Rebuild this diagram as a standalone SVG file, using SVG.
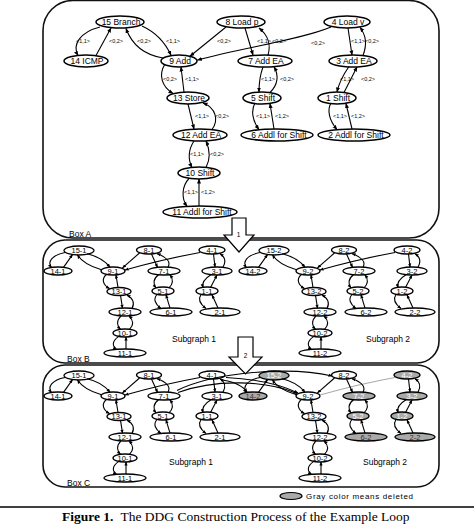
<svg xmlns="http://www.w3.org/2000/svg" width="474" height="527" viewBox="0 0 474 527">
<defs>
<marker id="ah" viewBox="0 0 10 10" refX="9" refY="5" markerWidth="5" markerHeight="5" markerUnits="userSpaceOnUse" orient="auto"><path d="M0,1 L10,5 L0,9 z" fill="#000"/></marker>
<marker id="ahs" viewBox="0 0 10 10" refX="9" refY="5" markerWidth="4" markerHeight="4" markerUnits="userSpaceOnUse" orient="auto"><path d="M0,1 L10,5 L0,9 z" fill="#000"/></marker>
</defs>
<style>
.box{fill:none;stroke:#111;stroke-width:1.6}
.na ellipse{fill:#fff;stroke:#000;stroke-width:1.5}
.na text{font-family:"Liberation Sans",Arial,sans-serif;font-size:8.5px;text-anchor:middle;fill:#000}
.nb ellipse{fill:#fff;stroke:#000;stroke-width:1.3}
.nb text{font-family:"Liberation Sans",Arial,sans-serif;font-size:7.5px;text-anchor:middle;fill:#000}
.nb.del ellipse{fill:#aaa}
.nb.del text{fill:#fff}
.ea{fill:none;stroke:#000;stroke-width:1.1;marker-end:url(#ah)}
.eb{fill:none;stroke:#000;stroke-width:1.1;marker-end:url(#ahs)}
.eg{fill:none;stroke:#aaa;stroke-width:1.1}
.lbl{font-family:"Liberation Sans",Arial,sans-serif;font-size:5.5px;text-anchor:middle;fill:#000}
.t{font-family:"Liberation Sans",Arial,sans-serif;font-size:8.5px;fill:#000}
.blk{fill:#fff;stroke:#000;stroke-width:1.2}
</style>
<rect width="474" height="527" fill="#fff"/>

<!-- frames -->
<g id="frames">
<rect class="box" x="43" y="0.5" width="396" height="237.5" rx="30" ry="30"/>
<rect class="box" x="43" y="240" width="396" height="123" rx="22" ry="22"/>
<rect class="box" x="43" y="365" width="396" height="122" rx="22" ry="22"/>
<text class="t" x="69" y="236.5">Box A</text>
<text class="t" x="67" y="362">Box B</text>
<text class="t" x="67" y="486">Box C</text>
<text class="t" x="172" y="342" font-size="9">Subgraph 1</text>
<text class="t" x="366" y="342" font-size="9">Subgraph 2</text>
<text class="t" x="169" y="465" font-size="9">Subgraph 1</text>
<text class="t" x="363" y="465" font-size="9">Subgraph 2</text>
</g>

<!-- Box A nodes -->
<g id="boxA-nodes">
<g id="a15" class="na"><ellipse cx="120" cy="22" rx="24" ry="6"/><text x="121" y="25">15 Branch</text></g>
<g id="a14" class="na"><ellipse cx="86" cy="61" rx="22" ry="6"/><text x="87" y="64">14 ICMP</text></g>
<g id="a9" class="na"><ellipse cx="179" cy="61" rx="18" ry="6"/><text x="180" y="64">9 Add</text></g>
<g id="a8" class="na"><ellipse cx="241" cy="22" rx="24" ry="6"/><text x="242" y="25">8 Load p</text></g>
<g id="a4" class="na"><ellipse cx="347" cy="22" rx="23" ry="6"/><text x="348" y="25">4 Load v</text></g>
<g id="a7" class="na"><ellipse cx="265" cy="61" rx="27" ry="6"/><text x="266" y="64">7 Add EA</text></g>
<g id="a3" class="na"><ellipse cx="353" cy="61" rx="24" ry="6"/><text x="354" y="64">3 Add EA</text></g>
<g id="a13" class="na"><ellipse cx="188" cy="98" rx="21" ry="6"/><text x="189" y="101">13 Store</text></g>
<g id="a5" class="na"><ellipse cx="262" cy="98" rx="19" ry="6"/><text x="263" y="101">5 Shift</text></g>
<g id="a1" class="na"><ellipse cx="337" cy="98" rx="19" ry="6"/><text x="338" y="101">1 Shift</text></g>
<g id="a12" class="na"><ellipse cx="200" cy="135" rx="27" ry="6"/><text x="201" y="138">12 Add EA</text></g>
<g id="a6" class="na"><ellipse cx="277" cy="135" rx="36" ry="6"/><text x="279" y="138">6 Addl for Shift</text></g>
<g id="a2" class="na"><ellipse cx="354" cy="135" rx="36" ry="6"/><text x="356" y="138">2 Addl for Shift</text></g>
<g id="a10" class="na"><ellipse cx="199" cy="173" rx="21" ry="6"/><text x="200" y="176">10 Shift</text></g>
<g id="a11" class="na"><ellipse cx="200" cy="212" rx="37" ry="6"/><text x="202" y="215">11 Addl for Shift</text></g>
</g>

<!-- Box B / C nodes -->
<g id="boxB-sg1">
<g id="b15-1" class="nb"><ellipse cx="79" cy="250.5" rx="15" ry="4.5"/><text x="79" y="253.2">15-1</text></g>
<g id="b14-1" class="nb"><ellipse cx="58" cy="271" rx="14" ry="4"/><text x="58" y="273.7">14-1</text></g>
<g id="b9-1" class="nb"><ellipse cx="113" cy="271" rx="12" ry="4"/><text x="113" y="273.7">9-1</text></g>
<g id="b8-1" class="nb"><ellipse cx="149" cy="250" rx="12.5" ry="4"/><text x="149" y="252.7">8-1</text></g>
<g id="b4-1" class="nb"><ellipse cx="212" cy="250" rx="13" ry="4"/><text x="212" y="252.7">4-1</text></g>
<g id="b7-1" class="nb"><ellipse cx="164" cy="271" rx="16" ry="4"/><text x="164" y="273.7">7-1</text></g>
<g id="b3-1" class="nb"><ellipse cx="217" cy="271" rx="15" ry="4"/><text x="217" y="273.7">3-1</text></g>
<g id="b13-1" class="nb"><ellipse cx="119" cy="291.5" rx="12" ry="4"/><text x="119" y="294.2">13-1</text></g>
<g id="b5-1" class="nb"><ellipse cx="163" cy="291" rx="11" ry="4"/><text x="163" y="293.7">5-1</text></g>
<g id="b1-1" class="nb"><ellipse cx="207" cy="291" rx="11" ry="4"/><text x="207" y="293.7">1-1</text></g>
<g id="b12-1" class="nb"><ellipse cx="125" cy="312" rx="16" ry="4"/><text x="125" y="314.7">12-1</text></g>
<g id="b6-1" class="nb"><ellipse cx="171" cy="312" rx="21" ry="4"/><text x="171" y="314.7">6-1</text></g>
<g id="b2-1" class="nb"><ellipse cx="220" cy="312" rx="20" ry="4"/><text x="220" y="314.7">2-1</text></g>
<g id="b10-1" class="nb"><ellipse cx="125" cy="333" rx="12" ry="4"/><text x="125" y="335.7">10-1</text></g>
<g id="b11-1" class="nb"><ellipse cx="125" cy="353" rx="21" ry="4"/><text x="125" y="355.7">11-1</text></g>
</g>
<g id="boxB-sg2" transform="translate(195,0)">
<g id="b15-2" class="nb"><ellipse cx="79" cy="250.5" rx="15" ry="4.5"/><text x="79" y="253.2">15-2</text></g>
<g id="b14-2" class="nb"><ellipse cx="58" cy="271" rx="14" ry="4"/><text x="58" y="273.7">14-2</text></g>
<g id="b9-2" class="nb"><ellipse cx="113" cy="271" rx="12" ry="4"/><text x="113" y="273.7">9-2</text></g>
<g id="b8-2" class="nb"><ellipse cx="149" cy="250" rx="12.5" ry="4"/><text x="149" y="252.7">8-2</text></g>
<g id="b4-2" class="nb"><ellipse cx="212" cy="250" rx="13" ry="4"/><text x="212" y="252.7">4-2</text></g>
<g id="b7-2" class="nb"><ellipse cx="164" cy="271" rx="16" ry="4"/><text x="164" y="273.7">7-2</text></g>
<g id="b3-2" class="nb"><ellipse cx="217" cy="271" rx="15" ry="4"/><text x="217" y="273.7">3-2</text></g>
<g id="b13-2" class="nb"><ellipse cx="119" cy="291.5" rx="12" ry="4"/><text x="119" y="294.2">13-2</text></g>
<g id="b5-2" class="nb"><ellipse cx="163" cy="291" rx="11" ry="4"/><text x="163" y="293.7">5-2</text></g>
<g id="b1-2" class="nb"><ellipse cx="207" cy="291" rx="11" ry="4"/><text x="207" y="293.7">1-2</text></g>
<g id="b12-2" class="nb"><ellipse cx="125" cy="312" rx="16" ry="4"/><text x="125" y="314.7">12-2</text></g>
<g id="b6-2" class="nb"><ellipse cx="171" cy="312" rx="21" ry="4"/><text x="171" y="314.7">6-2</text></g>
<g id="b2-2" class="nb"><ellipse cx="220" cy="312" rx="20" ry="4"/><text x="220" y="314.7">2-2</text></g>
<g id="b10-2" class="nb"><ellipse cx="125" cy="333" rx="12" ry="4"/><text x="125" y="335.7">10-2</text></g>
<g id="b11-2" class="nb"><ellipse cx="125" cy="353" rx="21" ry="4"/><text x="125" y="355.7">11-2</text></g>
</g>
<g id="boxC-sg1" transform="translate(0,125)">
<g id="c15-1" class="nb"><ellipse cx="79" cy="250.5" rx="15" ry="4.5"/><text x="79" y="253.2">15-1</text></g>
<g id="c14-1" class="nb"><ellipse cx="58" cy="271" rx="14" ry="4"/><text x="58" y="273.7">14-1</text></g>
<g id="c9-1" class="nb"><ellipse cx="113" cy="271" rx="12" ry="4"/><text x="113" y="273.7">9-1</text></g>
<g id="c8-1" class="nb"><ellipse cx="149" cy="250" rx="12.5" ry="4"/><text x="149" y="252.7">8-1</text></g>
<g id="c4-1" class="nb"><ellipse cx="212" cy="250" rx="13" ry="4"/><text x="212" y="252.7">4-1</text></g>
<g id="c7-1" class="nb"><ellipse cx="164" cy="271" rx="16" ry="4"/><text x="164" y="273.7">7-1</text></g>
<g id="c3-1" class="nb"><ellipse cx="217" cy="271" rx="15" ry="4"/><text x="217" y="273.7">3-1</text></g>
<g id="c13-1" class="nb"><ellipse cx="119" cy="291.5" rx="12" ry="4"/><text x="119" y="294.2">13-1</text></g>
<g id="c5-1" class="nb"><ellipse cx="163" cy="291" rx="11" ry="4"/><text x="163" y="293.7">5-1</text></g>
<g id="c1-1" class="nb"><ellipse cx="207" cy="291" rx="11" ry="4"/><text x="207" y="293.7">1-1</text></g>
<g id="c12-1" class="nb"><ellipse cx="125" cy="312" rx="16" ry="4"/><text x="125" y="314.7">12-1</text></g>
<g id="c6-1" class="nb"><ellipse cx="171" cy="312" rx="21" ry="4"/><text x="171" y="314.7">6-1</text></g>
<g id="c2-1" class="nb"><ellipse cx="220" cy="312" rx="20" ry="4"/><text x="220" y="314.7">2-1</text></g>
<g id="c10-1" class="nb"><ellipse cx="125" cy="333" rx="12" ry="4"/><text x="125" y="335.7">10-1</text></g>
<g id="c11-1" class="nb"><ellipse cx="125" cy="353" rx="21" ry="4"/><text x="125" y="355.7">11-1</text></g>
</g>
<g id="boxC-sg2" transform="translate(195,125)">
<g id="c15-2" class="nb del"><ellipse cx="79" cy="250.5" rx="15" ry="4.5"/><text x="79" y="253.2">15-2</text></g>
<g id="c14-2" class="nb del"><ellipse cx="58" cy="271" rx="14" ry="4"/><text x="58" y="273.7" style="fill:#333">14-2</text></g>
<g id="c9-2" class="nb"><ellipse cx="113" cy="271" rx="12" ry="4"/><text x="113" y="273.7">9-2</text></g>
<g id="c8-2" class="nb"><ellipse cx="149" cy="250" rx="12.5" ry="4"/><text x="149" y="252.7">8-2</text></g>
<g id="c4-2" class="nb del"><ellipse cx="212" cy="250" rx="13" ry="4"/><text x="212" y="252.7">4-2</text></g>
<g id="c7-2" class="nb del"><ellipse cx="164" cy="271" rx="16" ry="4"/><text x="164" y="273.7">7-2</text></g>
<g id="c3-2" class="nb del"><ellipse cx="217" cy="271" rx="15" ry="4"/><text x="217" y="273.7">3-2</text></g>
<g id="c13-2" class="nb"><ellipse cx="119" cy="291.5" rx="12" ry="4"/><text x="119" y="294.2">13-2</text></g>
<g id="c5-2" class="nb del"><ellipse cx="163" cy="291" rx="11" ry="4"/><text x="163" y="293.7">5-2</text></g>
<g id="c1-2" class="nb del"><ellipse cx="207" cy="291" rx="11" ry="4"/><text x="207" y="293.7">1-2</text></g>
<g id="c12-2" class="nb"><ellipse cx="125" cy="312" rx="16" ry="4"/><text x="125" y="314.7">12-2</text></g>
<g id="c6-2" class="nb del"><ellipse cx="171" cy="312" rx="21" ry="4"/><text x="171" y="314.7" style="fill:#333">6-2</text></g>
<g id="c2-2" class="nb del"><ellipse cx="220" cy="312" rx="20" ry="4"/><text x="220" y="314.7" style="fill:#333">2-2</text></g>
<g id="c10-2" class="nb"><ellipse cx="125" cy="333" rx="12" ry="4"/><text x="125" y="335.7">10-2</text></g>
<g id="c11-2" class="nb"><ellipse cx="125" cy="353" rx="21" ry="4"/><text x="125" y="355.7">11-2</text></g>
</g>

<!-- connectors -->
<g id="connectors">
<g id="edgesA">
<path class="ea" d="M100,27 C80,32 72,45 78,55.5"/>
<path class="ea" d="M96,55.5 L111,28"/>
<path class="ea" d="M163,58 C145,55 132,45 126,28.5"/>
<path class="ea" d="M142,26 C155,32 165,42 171,55.3"/>
<path class="ea" d="M226,27 L190,56.3"/>
<path class="ea" d="M331,27 C300,40 240,48 197.5,60"/>
<path class="ea" d="M245,28 L253,55"/>
<path class="ea" d="M268,55 C271,45 268,35 259,28"/>
<path class="ea" d="M348,28 L352,55"/>
<path class="ea" d="M363,55.5 C367,45 366,35 360,27.5"/>
<path class="ea" d="M263,67 C260,75 259,83 259,92"/>
<path class="ea" d="M270,92.5 C278,85 279,75 274,67"/>
<path class="ea" d="M349,66.5 C343,75 339,83 337,92"/>
<path class="ea" d="M344,92.5 L357,67"/>
<path class="ea" d="M165,64 C158,75 162,87 173,93.5"/>
<path class="ea" d="M184,92 L181,67"/>
<path class="ea" d="M188,104 L194,129"/>
<path class="ea" d="M212,129.5 C219,120 216,108 203,103"/>
<path class="ea" d="M194,141 C188,150 188,160 192,167.5"/>
<path class="ea" d="M206,167.5 C210,160 210,150 206,141"/>
<path class="ea" d="M189,178.5 C182,186 181,198 187,206.3"/>
<path class="ea" d="M199,206 L199,179"/>
<path class="ea" d="M255,103 C251,110 252,120 259,129.5"/>
<path class="ea" d="M274,129 L270,103.5"/>
<path class="ea" d="M331,103 C327,110 329,120 337,129.5"/>
<path class="ea" d="M352,129 L346,103.5"/>
</g>
<g id="labelsA">
<text class="lbl" x="83" y="43">&lt;1,1&gt;</text>
<text class="lbl" x="116" y="43">&lt;0,2&gt;</text>
<text class="lbl" x="144" y="43">&lt;0,2&gt;</text>
<text class="lbl" x="173" y="43">&lt;1,1&gt;</text>
<text class="lbl" x="224" y="43">&lt;0,2&gt;</text>
<text class="lbl" x="264" y="43">&lt;1,1&gt;</text>
<text class="lbl" x="279" y="43">&lt;0,2&gt;</text>
<text class="lbl" x="318" y="45">&lt;0,2&gt;</text>
<text class="lbl" x="358" y="43">&lt;1,1&gt;</text>
<text class="lbl" x="372" y="43">&lt;0,2&gt;</text>
<text class="lbl" x="268" y="81">&lt;1,1&gt;</text>
<text class="lbl" x="287" y="81">&lt;0,2&gt;</text>
<text class="lbl" x="347" y="81">&lt;1,1&gt;</text>
<text class="lbl" x="368" y="81">&lt;0,2&gt;</text>
<text class="lbl" x="170" y="81">&lt;0,2&gt;</text>
<text class="lbl" x="192" y="81">&lt;1,1&gt;</text>
<text class="lbl" x="202" y="118">&lt;1,1&gt;</text>
<text class="lbl" x="222" y="118">&lt;0,2&gt;</text>
<text class="lbl" x="263" y="118">&lt;1,1&gt;</text>
<text class="lbl" x="282" y="118">&lt;1,2&gt;</text>
<text class="lbl" x="340" y="118">&lt;1,1&gt;</text>
<text class="lbl" x="358" y="118">&lt;1,2&gt;</text>
<text class="lbl" x="197" y="156">&lt;1,1&gt;</text>
<text class="lbl" x="217" y="156">&lt;0,2&gt;</text>
<text class="lbl" x="191" y="194">&lt;1,1&gt;</text>
<text class="lbl" x="208" y="194">&lt;1,2&gt;</text>
</g>
<g id="edgesB1">
<path class="eb" d="M65,252.5 C52,255 47,262 51.5,267.6"/>
<path class="eb" d="M63.5,267.4 L72.5,254.6"/>
<path class="eb" d="M101.5,269.8 C92,267 82,262 77.5,255"/>
<path class="eb" d="M87,253.8 C97,256 105,261 110,267.2"/>
<path class="eb" d="M139.5,253 L122.5,267.8"/>
<path class="eb" d="M200,252.5 C175,257 150,263 125,270"/>
<path class="eb" d="M151.5,254 L157.5,267.3"/>
<path class="eb" d="M168,267.2 C171,262 167,257 157,253.7"/>
<path class="eb" d="M213.5,254 L215,267"/>
<path class="eb" d="M223,267.3 C226,262 225,257 220,253.8"/>
<path class="eb" d="M106.5,274.5 C101,279 103,285 109.5,288.6"/>
<path class="eb" d="M118,287.5 L116,275"/>
<path class="eb" d="M158.5,274.8 C153,279 153,284 156,287.8"/>
<path class="eb" d="M169,287.8 C173,284 173,279 170,274.9"/>
<path class="eb" d="M211,274.8 C204,279 202,284 203,287.6"/>
<path class="eb" d="M210.5,287.4 L217,275"/>
<path class="eb" d="M120.5,295.4 L122.5,308.2"/>
<path class="eb" d="M132,308.6 C135,303 133,298 127,295.2"/>
<path class="eb" d="M157,294.5 C153,299 155,304 161,308.4"/>
<path class="eb" d="M170,308.2 L166,294.8"/>
<path class="eb" d="M201,294.5 C198,299 200,304 206,308.4"/>
<path class="eb" d="M218,308.1 L212,294.8"/>
<path class="eb" d="M121,315.9 C116,321 117,326 120.5,329.3"/>
<path class="eb" d="M129.5,329.4 C134,325 133,320 129,315.9"/>
<path class="eb" d="M118.5,336.6 C112,341 112,346 116.5,349.5"/>
<path class="eb" d="M126,349 L126,337"/>
</g>
<g id="edgesB2" transform="translate(195,0)">
<path class="eb" d="M65,252.5 C52,255 47,262 51.5,267.6"/>
<path class="eb" d="M63.5,267.4 L72.5,254.6"/>
<path class="eb" d="M101.5,269.8 C92,267 82,262 77.5,255"/>
<path class="eb" d="M87,253.8 C97,256 105,261 110,267.2"/>
<path class="eb" d="M139.5,253 L122.5,267.8"/>
<path class="eb" d="M200,252.5 C175,257 150,263 125,270"/>
<path class="eb" d="M151.5,254 L157.5,267.3"/>
<path class="eb" d="M168,267.2 C171,262 167,257 157,253.7"/>
<path class="eb" d="M213.5,254 L215,267"/>
<path class="eb" d="M223,267.3 C226,262 225,257 220,253.8"/>
<path class="eb" d="M106.5,274.5 C101,279 103,285 109.5,288.6"/>
<path class="eb" d="M118,287.5 L116,275"/>
<path class="eb" d="M158.5,274.8 C153,279 153,284 156,287.8"/>
<path class="eb" d="M169,287.8 C173,284 173,279 170,274.9"/>
<path class="eb" d="M211,274.8 C204,279 202,284 203,287.6"/>
<path class="eb" d="M210.5,287.4 L217,275"/>
<path class="eb" d="M120.5,295.4 L122.5,308.2"/>
<path class="eb" d="M132,308.6 C135,303 133,298 127,295.2"/>
<path class="eb" d="M157,294.5 C153,299 155,304 161,308.4"/>
<path class="eb" d="M170,308.2 L166,294.8"/>
<path class="eb" d="M201,294.5 C198,299 200,304 206,308.4"/>
<path class="eb" d="M218,308.1 L212,294.8"/>
<path class="eb" d="M121,315.9 C116,321 117,326 120.5,329.3"/>
<path class="eb" d="M129.5,329.4 C134,325 133,320 129,315.9"/>
<path class="eb" d="M118.5,336.6 C112,341 112,346 116.5,349.5"/>
<path class="eb" d="M126,349 L126,337"/>
</g>
<g id="edgesC1" transform="translate(0,125)">
<path class="eb" d="M65,252.5 C52,255 47,262 51.5,267.6"/>
<path class="eb" d="M63.5,267.4 L72.5,254.6"/>
<path class="eb" d="M101.5,269.8 C92,267 82,262 77.5,255"/>
<path class="eb" d="M87,253.8 C97,256 105,261 110,267.2"/>
<path class="eb" d="M139.5,253 L122.5,267.8"/>
<path class="eb" d="M200,252.5 C175,257 150,263 125,270"/>
<path class="eb" d="M151.5,254 L157.5,267.3"/>
<path class="eb" d="M168,267.2 C171,262 167,257 157,253.7"/>
<path class="eb" d="M213.5,254 L215,267"/>
<path class="eb" d="M223,267.3 C226,262 225,257 220,253.8"/>
<path class="eb" d="M106.5,274.5 C101,279 103,285 109.5,288.6"/>
<path class="eb" d="M118,287.5 L116,275"/>
<path class="eb" d="M158.5,274.8 C153,279 153,284 156,287.8"/>
<path class="eb" d="M169,287.8 C173,284 173,279 170,274.9"/>
<path class="eb" d="M211,274.8 C204,279 202,284 203,287.6"/>
<path class="eb" d="M210.5,287.4 L217,275"/>
<path class="eb" d="M120.5,295.4 L122.5,308.2"/>
<path class="eb" d="M132,308.6 C135,303 133,298 127,295.2"/>
<path class="eb" d="M157,294.5 C153,299 155,304 161,308.4"/>
<path class="eb" d="M170,308.2 L166,294.8"/>
<path class="eb" d="M201,294.5 C198,299 200,304 206,308.4"/>
<path class="eb" d="M218,308.1 L212,294.8"/>
<path class="eb" d="M121,315.9 C116,321 117,326 120.5,329.3"/>
<path class="eb" d="M129.5,329.4 C134,325 133,320 129,315.9"/>
<path class="eb" d="M118.5,336.6 C112,341 112,346 116.5,349.5"/>
<path class="eb" d="M126,349 L126,337"/>
</g>
<g id="edgesC2" transform="translate(195,125)">
<path class="eb" d="M65,252.5 C52,255 47,262 51.5,267.6"/>
<path class="eb" d="M63.5,267.4 L72.5,254.6"/>
<path class="eb" d="M101.5,269.8 C92,267 82,262 77.5,255"/>
<path class="eb" d="M87,253.8 C97,256 105,261 110,267.2"/>
<path class="eb" d="M139.5,253 L122.5,267.8"/>
<path class="eg" d="M200,252.5 C175,257 150,263 125,270"/>
<path class="eb" d="M151.5,254 L157.5,267.3"/>
<path class="eb" d="M168,267.2 C171,262 167,257 157,253.7"/>
<path class="eb" d="M213.5,254 L215,267"/>
<path class="eb" d="M223,267.3 C226,262 225,257 220,253.8"/>
<path class="eb" d="M106.5,274.5 C101,279 103,285 109.5,288.6"/>
<path class="eb" d="M118,287.5 L116,275"/>
<path class="eb" d="M158.5,274.8 C153,279 153,284 156,287.8"/>
<path class="eb" d="M169,287.8 C173,284 173,279 170,274.9"/>
<path class="eb" d="M211,274.8 C204,279 202,284 203,287.6"/>
<path class="eb" d="M210.5,287.4 L217,275"/>
<path class="eb" d="M120.5,295.4 L122.5,308.2"/>
<path class="eb" d="M132,308.6 C135,303 133,298 127,295.2"/>
<path class="eb" d="M157,294.5 C153,299 155,304 161,308.4"/>
<path class="eb" d="M170,308.2 L166,294.8"/>
<path class="eb" d="M201,294.5 C198,299 200,304 206,308.4"/>
<path class="eb" d="M218,308.1 L212,294.8"/>
<path class="eb" d="M121,315.9 C116,321 117,326 120.5,329.3"/>
<path class="eb" d="M129.5,329.4 C134,325 133,320 129,315.9"/>
<path class="eb" d="M118.5,336.6 C112,341 112,346 116.5,349.5"/>
<path class="eb" d="M126,349 L126,337"/>
</g>
<g id="edgesCross">
<path class="eb" d="M178,392.5 C215,379 265,380 297,393.5"/>
<path class="eb" d="M177,390.5 C215,372 290,366 332,376"/>
<path class="eb" d="M226,377.5 C255,379 280,384 298,393"/>
<path class="eb" d="M222,380 C235,382 243,386 247,392"/>
</g>
</g>

<!-- block arrows -->
<g id="step1">
<polygon class="blk" points="232,218 246,218 246,235 254,235 239,252 224,235 232,235"/>
<text x="238.5" y="237" font-family="Liberation Sans, Arial, sans-serif" font-size="6.5" text-anchor="middle">1</text>
</g>
<g id="step2">
<polygon class="blk" points="238,337 253,337 253,357 262,357 245.5,374 229,357 238,357"/>
<text x="245.5" y="358" font-family="Liberation Sans, Arial, sans-serif" font-size="6.5" text-anchor="middle">2</text>
</g>

<!-- legend -->
<g id="legend">
<ellipse cx="291" cy="496" rx="11" ry="3.5" fill="#aaa" stroke="#000" stroke-width="1.2"/>
<text x="306" y="499" font-family="Liberation Sans, Arial, sans-serif" font-size="8" textLength="107">Gray color means deleted</text>
</g>

<line x1="0" y1="507" x2="474" y2="507" stroke="#000" stroke-width="1.5"/>
<text x="62" y="521" font-family="Liberation Serif, Times New Roman, serif" font-size="13.5"><tspan font-weight="bold">Figure 1.</tspan><tspan dx="7">The DDG Construction Process of the Example Loop</tspan></text>
</svg>
